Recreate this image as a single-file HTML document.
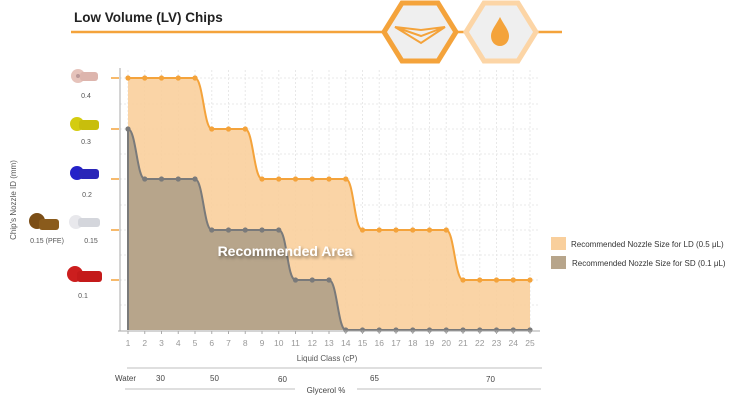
<!DOCTYPE html>
<html><head><meta charset="utf-8"><style>
body{margin:0;background:#fff;}
svg{display:block;font-family:"Liberation Sans",sans-serif;}
</style></head><body>
<svg width="750" height="400" viewBox="0 0 750 400" xmlns="http://www.w3.org/2000/svg">
<defs>
<filter id="sh" x="-10%" y="-30%" width="130%" height="180%"><feDropShadow dx="1.5" dy="2" stdDeviation="1.5" flood-color="#000" flood-opacity="0.45"/></filter>
</defs>
<text x="74" y="22" font-size="13.5" font-weight="bold" fill="#222">Low Volume (LV) Chips</text>
<line x1="71" y1="32" x2="562" y2="32" stroke="#f4a33b" stroke-width="2.5"/>
<polygon points="384,32 402,3 438,3 456,32 438,61 402,61" fill="#efefef" stroke="#f4a33b" stroke-width="5"/>
<path d="M395,27 L421,30 L445,27 L421,43 Z M395,27 L421,36 L445,27" fill="none" stroke="#f4a33b" stroke-width="2"/>
<polygon points="466,32 484,3 518,3 536,32 518,61 484,61" fill="#efefef" stroke="#fcd5a6" stroke-width="5"/>
<path d="M500,17 C496,25 491,30 491,36 C491,42 495,46 500,46 C505,46 509,42 509,36 C509,30 504,25 500,17 Z" fill="#f4a33b"/>
<g stroke="#e8e8e8" stroke-dasharray="2,2" stroke-width="1">
<line x1="120" y1="78" x2="540" y2="78"/><line x1="120" y1="104" x2="540" y2="104"/>
<line x1="120" y1="129" x2="540" y2="129"/><line x1="120" y1="154" x2="540" y2="154"/>
<line x1="120" y1="179" x2="540" y2="179"/><line x1="120" y1="205" x2="540" y2="205"/>
<line x1="120" y1="230" x2="540" y2="230"/><line x1="120" y1="255" x2="540" y2="255"/>
<line x1="120" y1="280" x2="540" y2="280"/><line x1="120" y1="305" x2="540" y2="305"/>
</g>
<g id="vg" stroke="#e8e8e8" stroke-dasharray="2,2"></g>
<path d="M128,78 L195,78 C203,78 204,129 211.75,129 L245.25,129 C253,129 254,179 262,179 L345.75,179 C354,179 354,230 362.5,230 L446.25,230 C454,230 455,280 463,280 L530,280 L530,330 L128,330 Z" fill="#f9cf9c" fill-opacity="0.9"/>
<path d="M128,78 L195,78 C203,78 204,129 211.75,129 L245.25,129 C253,129 254,179 262,179 L345.75,179 C354,179 354,230 362.5,230 L446.25,230 C454,230 455,280 463,280 L530,280" fill="none" stroke="#f4a33b" stroke-width="2"/>
<path d="M128,129 C136,129 137,179 144.75,179 L195,179 C203,179 204,230 211.75,230 L278.75,230 C287,230 287,280 295.5,280 L329,280 C337,280 338,330 345.75,330 L345.75,330 L128,330Z" fill="#b7a58b"/>
<path d="M128,330 L128,129 C136,129 137,179 144.75,179 L195,179 C203,179 204,230 211.75,230 L278.75,230 C287,230 287,280 295.5,280 L329,280 C337,280 338,330 345.75,330 L530,330" fill="none" stroke="#7a7a7a" stroke-width="2"/>
<g id="dots"></g>
<line x1="120" y1="68" x2="120" y2="331" stroke="#aaa" stroke-width="1"/>
<line x1="118" y1="331" x2="540" y2="331" stroke="#aaa" stroke-width="1"/>
<g stroke="#f4a33b" stroke-width="1.5">
<line x1="111" y1="78" x2="119" y2="78"/><line x1="111" y1="129" x2="119" y2="129"/><line x1="111" y1="179" x2="119" y2="179"/><line x1="111" y1="230" x2="119" y2="230"/><line x1="111" y1="280" x2="119" y2="280"/>
</g>
<g id="xl" font-size="8.5" fill="#999" text-anchor="middle"></g>
<text x="327" y="361" font-size="8" fill="#555" text-anchor="middle">Liquid Class (cP)</text>
<text x="285" y="256" font-size="14" font-weight="bold" fill="#fff" text-anchor="middle" filter="url(#sh)">Recommended Area</text>
<line x1="127" y1="368" x2="542" y2="368" stroke="#ccc" stroke-width="1.2"/>
<line x1="125" y1="389" x2="295" y2="389" stroke="#ccc" stroke-width="1.2"/>
<line x1="357" y1="389" x2="541" y2="389" stroke="#ccc" stroke-width="1.2"/>
<g font-size="8" fill="#444">
<text x="115" y="381">Water</text><text x="156" y="381">30</text><text x="210" y="381">50</text><text x="278" y="382">60</text><text x="370" y="381">65</text><text x="486" y="382">70</text>
<text x="326" y="393" text-anchor="middle">Glycerol %</text>
</g>
<text transform="translate(16,200) rotate(-90)" font-size="8" fill="#555" text-anchor="middle">Chip's Nozzle ID (mm)</text>
<g>
<circle cx="78" cy="76" r="7" fill="#e6c3bb"/><rect x="80" y="72" width="18" height="9" rx="3" fill="#ddb5ad"/><circle cx="78" cy="76" r="2" fill="#b99"/>
<circle cx="77" cy="124" r="7" fill="#d4cc10"/><rect x="79" y="120" width="20" height="10" rx="3" fill="#c8be0c"/>
<circle cx="77" cy="173" r="7" fill="#2522c8"/><rect x="79" y="169" width="20" height="10" rx="3" fill="#2a26b8"/>
<circle cx="76" cy="222" r="7" fill="#e8e8ec"/><rect x="78" y="218" width="22" height="9" rx="3" fill="#d4d6dc"/>
<circle cx="37" cy="221" r="8" fill="#7b4e17"/><rect x="39" y="219" width="20" height="11" rx="3" fill="#8a5b1c"/>
<circle cx="75" cy="274" r="8" fill="#cc1e1e"/><rect x="77" y="271" width="25" height="11" rx="3" fill="#c41a1a"/>
</g>
<g font-size="7" fill="#555" text-anchor="middle">
<text x="86" y="98">0.4</text><text x="86" y="144">0.3</text><text x="87" y="197">0.2</text><text x="91" y="243">0.15</text><text x="47" y="243">0.15 (PFE)</text><text x="83" y="298">0.1</text>
</g>
<rect x="551" y="237" width="15" height="13" fill="#f9cf9c"/>
<text x="571" y="247" font-size="8" fill="#333">Recommended Nozzle Size for LD (0.5 μL)</text>
<rect x="551" y="256" width="15" height="13" fill="#b7a58b"/>
<text x="572" y="266" font-size="8" fill="#333">Recommended Nozzle Size for SD (0.1 μL)</text>
<script>
var ns="http://www.w3.org/2000/svg";
var ld=[78,78,78,78,78,129,129,129,179,179,179,179,179,179,230,230,230,230,230,230,280,280,280,280,280];
var sd=[129,179,179,179,179,230,230,230,230,230,280,280,280,330,330,330,330,330,330,330,330,330,330,330,330];
var vg=document.getElementById('vg'),d=document.getElementById('dots'),xl=document.getElementById('xl');
for(var i=0;i<25;i++){var x=128+i*16.75;
var l=document.createElementNS(ns,'line');l.setAttribute('x1',x);l.setAttribute('x2',x);l.setAttribute('y1',70);l.setAttribute('y2',330);vg.appendChild(l);
var c=document.createElementNS(ns,'circle');c.setAttribute('cx',x);c.setAttribute('cy',ld[i]);c.setAttribute('r',2.6);c.setAttribute('fill','#f4a33b');d.appendChild(c);
c=document.createElementNS(ns,'circle');c.setAttribute('cx',x);c.setAttribute('cy',sd[i]);c.setAttribute('r',2.6);c.setAttribute('fill','#7a7a7a');d.appendChild(c);
var t=document.createElementNS(ns,'line');t.setAttribute('x1',x);t.setAttribute('x2',x);t.setAttribute('y1',331);t.setAttribute('y2',334);t.setAttribute('stroke','#aaa');xl.appendChild(t);
var tx=document.createElementNS(ns,'text');tx.setAttribute('x',x);tx.setAttribute('y',346);tx.textContent=i+1;xl.appendChild(tx);}
</script>
</svg>
</body></html>
